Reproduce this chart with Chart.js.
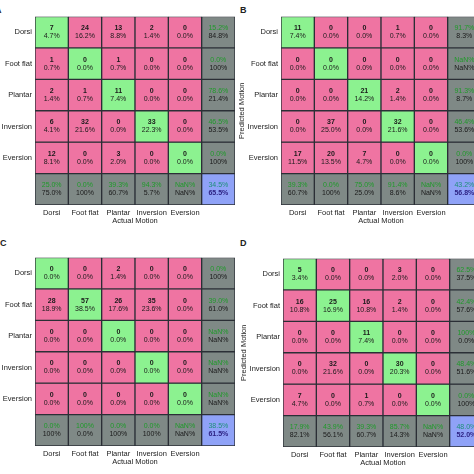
<!DOCTYPE html>
<html lang="en">
<head>
    <meta charset="UTF-8">
    <title>Confusion matrices</title>
    <script src="https://cdn.jsdelivr.net/npm/chart.js"></script>
    <style>
        body {
            margin: 0;
            width: 474px;
            height: 474px;
            overflow: hidden;
            background: #fff;
            position: relative;
            font-family: Arial, "Liberation Sans", sans-serif;
        }
        .panel {
            position: absolute;
        }
        .tag {
            position: absolute;
            font-size: 9px;
            font-weight: bold;
            color: #222;
        }
    </style>
</head>
<body>
    <div class="tag" style="left:-5px; top:5px;">A</div>
    <div class="tag" style="left:240px; top:5px;">B</div>
    <div class="tag" style="left:0px; top:238px;">C</div>
    <div class="tag" style="left:240px; top:238px;">D</div>

    <canvas id="chartA" class="panel" style="left:-9px; top:9px;" width="244" height="216"></canvas>
    <canvas id="chartB" class="panel" style="left:237px; top:9px;" width="244" height="216"></canvas>
    <canvas id="chartC" class="panel" style="left:-9px; top:250px;" width="244" height="216"></canvas>
    <canvas id="chartD" class="panel" style="left:239px; top:251px;" width="244" height="216"></canvas>

    <script>
        // class names (rows = predicted, columns = actual)
        const classes = ['Dorsi', 'Foot flat', 'Plantar', 'Inversion', 'Eversion'];

        // panel A
        const countsA = [[7, 24, 13, 2, 0], [1, 0, 1, 0, 0], [2, 1, 11, 0, 0], [6, 32, 0, 33, 0], [12, 0, 3, 0, 0]];
        const pctA = [['4.7%', '16.2%', '8.8%', '1.4%', '0.0%'], ['0.7%', '0.0%', '0.7%', '0.0%', '0.0%'],
            ['1.4%', '0.7%', '7.4%', '0.0%', '0.0%'], ['4.1%', '21.6%', '0.0%', '22.3%', '0.0%'],
            ['8.1%', '0.0%', '2.0%', '0.0%', '0.0%']];
        const rowSumA = [['15.2%', '84.8%'], ['0.0%', '100%'], ['78.6%', '21.4%'], ['46.5%', '53.5%'], ['0.0%', '100%']];
        const colSumA = [['25.0%', '75.0%'], ['0.0%', '100%'], ['39.3%', '60.7%'], ['94.3%', '5.7%'], ['NaN%', 'NaN%']];
        const totalA = ['34.5%', '65.5%'];

        // panel B
        const countsB = [[11, 0, 0, 1, 0], [0, 0, 0, 0, 0], [0, 0, 21, 2, 0], [0, 37, 0, 32, 0], [17, 20, 7, 0, 0]];
        const pctB = [['7.4%', '0.0%', '0.0%', '0.7%', '0.0%'], ['0.0%', '0.0%', '0.0%', '0.0%', '0.0%'],
            ['0.0%', '0.0%', '14.2%', '1.4%', '0.0%'], ['0.0%', '25.0%', '0.0%', '21.6%', '0.0%'],
            ['11.5%', '13.5%', '4.7%', '0.0%', '0.0%']];
        const rowSumB = [['91.7%', '8.3%'], ['NaN%', 'NaN%'], ['91.3%', '8.7%'], ['46.4%', '53.6%'], ['0.0%', '100%']];
        const colSumB = [['39.3%', '60.7%'], ['0.0%', '100%'], ['75.0%', '25.0%'], ['91.4%', '8.6%'], ['NaN%', 'NaN%']];
        const totalB = ['43.2%', '56.8%'];

        // panel C
        const countsC = [[0, 0, 2, 0, 0], [28, 57, 26, 35, 0], [0, 0, 0, 0, 0], [0, 0, 0, 0, 0], [0, 0, 0, 0, 0]];
        const pctC = [['0.0%', '0.0%', '1.4%', '0.0%', '0.0%'], ['18.9%', '38.5%', '17.6%', '23.6%', '0.0%'],
            ['0.0%', '0.0%', '0.0%', '0.0%', '0.0%'], ['0.0%', '0.0%', '0.0%', '0.0%', '0.0%'],
            ['0.0%', '0.0%', '0.0%', '0.0%', '0.0%']];
        const rowSumC = [['0.0%', '100%'], ['39.0%', '61.0%'], ['NaN%', 'NaN%'], ['NaN%', 'NaN%'], ['NaN%', 'NaN%']];
        const colSumC = [['0.0%', '100%'], ['100%', '0.0%'], ['0.0%', '100%'], ['0.0%', '100%'], ['NaN%', 'NaN%']];
        const totalC = ['38.5%', '61.5%'];

        // panel D
        const countsD = [[5, 0, 0, 3, 0], [16, 25, 16, 2, 0], [0, 0, 11, 0, 0], [0, 32, 0, 30, 0], [7, 0, 1, 0, 0]];
        const pctD = [['3.4%', '0.0%', '0.0%', '2.0%', '0.0%'], ['10.8%', '16.9%', '10.8%', '1.4%', '0.0%'],
            ['0.0%', '0.0%', '7.4%', '0.0%', '0.0%'], ['0.0%', '21.6%', '0.0%', '20.3%', '0.0%'],
            ['4.7%', '0.0%', '0.7%', '0.0%', '0.0%']];
        const rowSumD = [['62.5%', '37.5%'], ['42.4%', '57.6%'], ['100%', '0.0%'], ['48.4%', '51.6%'], ['0.0%', '100%']];
        const colSumD = [['17.9%', '82.1%'], ['43.9%', '56.1%'], ['39.3%', '60.7%'], ['85.7%', '14.3%'], ['NaN%', 'NaN%']];
        const totalD = ['48.0%', '52.0%'];

        const GREEN = '#8cf290';
        const PINK = '#ef74a2';
        const GRAY = '#7f8986';
        const BLUE = '#8fa2f7';
        const TXT_GREEN = '#1f9a2a';

        function cellColor(r, c) {
            if (r === 5 && c === 5) return BLUE;
            if (r === 5 || c === 5) return GRAY;
            return r === c ? GREEN : PINK;
        }

        // text for each cell: [line1, line2, kind]
        function cellText(r, c, counts, pcts, rowSum, colSum, total) {
            if (r < 5 && c < 5) return [String(counts[r][c]), pcts[r][c], 'cell'];
            if (r === 5 && c === 5) return [total[0], total[1], 'total'];
            if (c === 5) return [rowSum[r][0], rowSum[r][1], 'sum'];
            return [colSum[c][0], colSum[c][1], 'sum'];
        }

        function makePanel(id, counts, pcts, rowSum, colSum, total) {
            const datasets = [];
            for (let r = 0; r < 6; r++) {
                const data = [];
                const colors = [];
                for (let c = 0; c < 6; c++) {
                    data.push([r, r + 1]);
                    colors.push(cellColor(r, c));
                }
                datasets.push({
                    data: data,
                    backgroundColor: colors,
                    borderColor: '#2b2f36',
                    borderWidth: 1,
                    borderSkipped: false,
                    barPercentage: 1,
                    categoryPercentage: 1,
                    grouped: false
                });
            }

            const cellLabels = {
                id: 'cellLabels',
                afterDatasetsDraw(chart) {
                    const ctx = chart.ctx;
                    const xs = chart.scales.x, ys = chart.scales.y;
                    ctx.save();
                    ctx.textAlign = 'center';
                    ctx.textBaseline = 'middle';
                    for (let r = 0; r < 6; r++) {
                        for (let c = 0; c < 6; c++) {
                            const t = cellText(r, c, counts, pcts, rowSum, colSum, total);
                            const x = xs.getPixelForValue(c);
                            const y = ys.getPixelForValue(r + 0.5);
                            if (t[2] === 'cell') {
                                ctx.fillStyle = '#1a1a1a';
                                ctx.font = 'bold 7px Arial';
                                ctx.fillText(t[0], x, y - 4);
                                ctx.font = '7px Arial';
                                ctx.fillText(t[1], x, y + 4);
                            } else if (t[2] === 'sum') {
                                ctx.font = '7px Arial';
                                ctx.fillStyle = TXT_GREEN;
                                ctx.fillText(t[0], x, y - 4);
                                ctx.fillStyle = '#1a1a1a';
                                ctx.fillText(t[1], x, y + 4);
                            } else {
                                ctx.font = '7px Arial';
                                ctx.fillStyle = '#1f8f7a';
                                ctx.fillText(t[0], x, y - 4);
                                ctx.font = 'bold 7px Arial';
                                ctx.fillStyle = '#2a1f80';
                                ctx.fillText(t[1], x, y + 4);
                            }
                        }
                    }
                    ctx.restore();
                }
            };

            return new Chart(document.getElementById(id), {
                type: 'bar',
                data: {
                    labels: [...classes, ''],
                    datasets: datasets
                },
                options: {
                    responsive: false,
                    animation: false,
                    layout: { padding: 0 },
                    plugins: {
                        legend: { display: false },
                        tooltip: { enabled: false }
                    },
                    scales: {
                        x: {
                            grid: { display: false, drawTicks: false },
                            border: { display: false },
                            ticks: {
                                color: '#222',
                                font: { size: 7.5, family: 'Arial' },
                                padding: 3,
                                maxRotation: 0,
                                autoSkip: false
                            },
                            title: {
                                display: true,
                                text: 'Actual Motion',
                                color: '#222',
                                font: { size: 7.5, family: 'Arial' },
                                padding: 0
                            },
                            afterFit: (s) => { s.height = 20; }
                        },
                        y: {
                            min: 0,
                            max: 6,
                            reverse: true,
                            grid: { display: false, drawTicks: false },
                            border: { display: false },
                            afterBuildTicks: (s) => {
                                s.ticks = [0.5, 1.5, 2.5, 3.5, 4.5].map(v => ({ value: v }));
                            },
                            ticks: {
                                color: '#222',
                                font: { size: 7.5, family: 'Arial' },
                                padding: 3,
                                callback: (v) => classes[Math.floor(v)]
                            },
                            title: {
                                display: true,
                                text: 'Predicted Motion',
                                color: '#222',
                                font: { size: 7.5, family: 'Arial' },
                                padding: 0
                            },
                            afterFit: (s) => { s.width = 44; }
                        }
                    }
                },
                plugins: [cellLabels]
            });
        }

        makePanel('chartA', countsA, pctA, rowSumA, colSumA, totalA);
        makePanel('chartB', countsB, pctB, rowSumB, colSumB, totalB);
        makePanel('chartC', countsC, pctC, rowSumC, colSumC, totalC);
        makePanel('chartD', countsD, pctD, rowSumD, colSumD, totalD);
    </script>
</body>
</html>
